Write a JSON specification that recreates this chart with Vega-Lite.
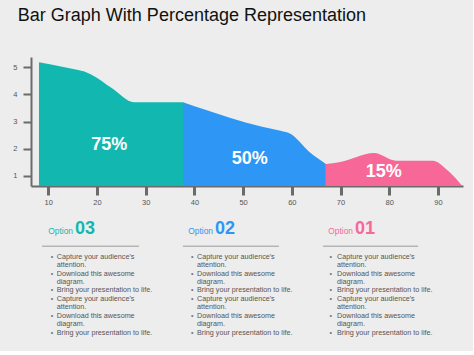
{
  "$schema": "https://vega.github.io/schema/vega-lite/v6.json",
  "background": "#EDEDED",
  "padding": {"left": 12, "top": 7, "right": 10, "bottom": 10},
  "bounds": "flush",
  "spacing": 37,
  "title": {"text": "Bar Graph With Percentage Representation", "anchor": "start", "fontSize": 18, "font": "Liberation Sans", "fontWeight": "normal", "color": "#111111", "offset": 32, "dx": 5},
  "config": {"view": {"stroke": null}, "font": "Liberation Sans"},
  "vconcat": [
    {
      "width": 432,
      "height": 129,
      "layer": [
        {
          "data": {"values": [
            {"seg": "a", "x": 8.09, "y": 5.18},
            {"seg": "a", "x": 13.6, "y": 4.98},
            {"seg": "a", "x": 18.7, "y": 4.74},
            {"seg": "a", "x": 23.1, "y": 4.22},
            {"seg": "a", "x": 27.6, "y": 3.71},
            {"seg": "a", "x": 37.66, "y": 3.71},
            {"seg": "b", "x": 37.66, "y": 3.71},
            {"seg": "b", "x": 42.4, "y": 3.42},
            {"seg": "b", "x": 47.1, "y": 3.15},
            {"seg": "b", "x": 53.9, "y": 2.81},
            {"seg": "b", "x": 57.7, "y": 2.66},
            {"seg": "b", "x": 59.8, "y": 2.54},
            {"seg": "b", "x": 63.5, "y": 1.9},
            {"seg": "b", "x": 67.0, "y": 1.44},
            {"seg": "c", "x": 67.0, "y": 1.44},
            {"seg": "c", "x": 69.7, "y": 1.5},
            {"seg": "c", "x": 76.9, "y": 1.84},
            {"seg": "c", "x": 81.4, "y": 1.56},
            {"seg": "c", "x": 88.9, "y": 1.56},
            {"seg": "c", "x": 92.2, "y": 1.17},
            {"seg": "c", "x": 95.0, "y": 0.63}
          ]},
          "mark": {"type": "area", "interpolate": "monotone", "opacity": 1},
          "encoding": {
            "x": {"field": "x", "type": "quantitative", "scale": {"domain": [6.45, 95.15], "nice": false, "zero": false},
              "axis": {"values": [10, 20, 30, 40, 50, 60, 70, 80, 90], "tickCount": 12, "title": null, "grid": false, "labelOverlap": false, "domainColor": "#6b6b6b", "domainWidth": 2, "tickColor": "#6b6b6b", "tickWidth": 3, "tickSize": 9, "labelColor": "#555555", "labelFontSize": 7.5, "labelPadding": 3}},
            "y": {"field": "y", "type": "quantitative", "stack": null, "scale": {"domain": [0.63, 5.37], "nice": false, "zero": false},
              "axis": {"values": [1, 2, 3, 4, 5], "tickCount": 6, "title": null, "grid": false, "labelOverlap": false, "domainColor": "#6b6b6b", "domainWidth": 2, "tickColor": "#6b6b6b", "tickWidth": 2, "tickSize": 8, "labelColor": "#555555", "labelFontSize": 7.5, "labelPadding": 6}},
            "y2": {"datum": 0.63},
            "color": {"field": "seg", "type": "nominal", "scale": {"domain": ["a", "b", "c"], "range": ["#12B8B0", "#2E96F5", "#F76898"]}, "legend": null}
          }
        },
        {
          "data": {"values": [
            {"label": "75%", "x": 22.5, "y": 2.15},
            {"label": "50%", "x": 51.35, "y": 1.62},
            {"label": "15%", "x": 78.9, "y": 1.15}
          ]},
          "mark": {"type": "text", "fontSize": 18, "fontWeight": "bold", "color": "#FFFFFF", "align": "center", "baseline": "middle"},
          "encoding": {
            "x": {"field": "x", "type": "quantitative"},
            "y": {"field": "y", "type": "quantitative"},
            "text": {"field": "label"}
          }
        }
      ]
    },
    {
      "width": 432,
      "height": 118,
      "encoding": {
        "y": {"type": "quantitative", "scale": {"domain": [-4, 10], "nice": false, "zero": false, "reverse": true}, "axis": null}
      },
      "layer": [
        {
          "data": {"values": [
            {"block": "03", "x1": 8.71, "x2": 28.63, "row": -1.25},
            {"block": "02", "x1": 37.66, "x2": 57.37, "row": -1.25},
            {"block": "01", "x1": 66.41, "x2": 85.92, "row": -1.25}
          ]},
          "mark": {"type": "rule", "color": "#9a9a9a", "strokeWidth": 1},
          "encoding": {
            "x": {"field": "x1", "type": "quantitative", "scale": {"domain": [6.45, 95.15], "nice": false, "zero": false}, "axis": null},
            "x2": {"field": "x2"},
            "y": {"field": "row", "type": "quantitative"}
          }
        },
        {
          "data": {"name": "heads", "values": [
            {"block": "03", "ox": 10.0, "nx": 15.48, "row": -2.7},
            {"block": "02", "ox": 38.75, "nx": 44.23, "row": -2.7},
            {"block": "01", "ox": 67.5, "nx": 72.98, "row": -2.7}
          ]},
          "layer": [
            {
              "mark": {"type": "text", "fontSize": 8.4, "align": "left", "baseline": "alphabetic"},
              "encoding": {
                "x": {"field": "ox", "type": "quantitative", "scale": {"domain": [6.45, 95.15], "nice": false, "zero": false}, "axis": null},
                "y": {"field": "row", "type": "quantitative"},
                "text": {"value": "Option"},
                "color": {"field": "block", "type": "nominal", "scale": {"domain": ["03", "02", "01"], "range": ["#1AA8A0", "#3A92DE", "#E2638F"]}, "legend": null}
              }
            },
            {
              "mark": {"type": "text", "fontSize": 18, "fontWeight": "bold", "align": "left", "baseline": "alphabetic"},
              "encoding": {
                "x": {"field": "nx", "type": "quantitative"},
                "y": {"field": "row", "type": "quantitative"},
                "text": {"field": "block"},
                "color": {"field": "block", "type": "nominal", "legend": null}
              }
            }
          ]
        },
        {
          "data": {"values": [
            {"bx": 10.76, "tx": 11.73, "row": 0, "b": "•", "t": "Capture your audience's"},
            {"bx": 10.76, "tx": 11.73, "row": 1, "b": "", "t": "attention."},
            {"bx": 10.76, "tx": 11.73, "row": 2, "b": "•", "t": "Download this awesome"},
            {"bx": 10.76, "tx": 11.73, "row": 3, "b": "", "t": "diagram."},
            {"bx": 10.76, "tx": 11.73, "row": 4, "b": "•", "t": "Bring your presentation to life."},
            {"bx": 10.76, "tx": 11.73, "row": 5, "b": "•", "t": "Capture your audience's"},
            {"bx": 10.76, "tx": 11.73, "row": 6, "b": "", "t": "attention."},
            {"bx": 10.76, "tx": 11.73, "row": 7, "b": "•", "t": "Download this awesome"},
            {"bx": 10.76, "tx": 11.73, "row": 8, "b": "", "t": "diagram."},
            {"bx": 10.76, "tx": 11.73, "row": 9, "b": "•", "t": "Bring your presentation to life."},
            {"bx": 39.57, "tx": 40.54, "row": 0, "b": "•", "t": "Capture your audience's"},
            {"bx": 39.57, "tx": 40.54, "row": 1, "b": "", "t": "attention."},
            {"bx": 39.57, "tx": 40.54, "row": 2, "b": "•", "t": "Download this awesome"},
            {"bx": 39.57, "tx": 40.54, "row": 3, "b": "", "t": "diagram."},
            {"bx": 39.57, "tx": 40.54, "row": 4, "b": "•", "t": "Bring your presentation to life."},
            {"bx": 39.57, "tx": 40.54, "row": 5, "b": "•", "t": "Capture your audience's"},
            {"bx": 39.57, "tx": 40.54, "row": 6, "b": "", "t": "attention."},
            {"bx": 39.57, "tx": 40.54, "row": 7, "b": "•", "t": "Download this awesome"},
            {"bx": 39.57, "tx": 40.54, "row": 8, "b": "", "t": "diagram."},
            {"bx": 39.57, "tx": 40.54, "row": 9, "b": "•", "t": "Bring your presentation to life."},
            {"bx": 68.0, "tx": 69.28, "row": 0, "b": "•", "t": "Capture your audience's"},
            {"bx": 68.0, "tx": 69.28, "row": 1, "b": "", "t": "attention."},
            {"bx": 68.0, "tx": 69.28, "row": 2, "b": "•", "t": "Download this awesome"},
            {"bx": 68.0, "tx": 69.28, "row": 3, "b": "", "t": "diagram."},
            {"bx": 68.0, "tx": 69.28, "row": 4, "b": "•", "t": "Bring your presentation to life."},
            {"bx": 68.0, "tx": 69.28, "row": 5, "b": "•", "t": "Capture your audience's"},
            {"bx": 68.0, "tx": 69.28, "row": 6, "b": "", "t": "attention."},
            {"bx": 68.0, "tx": 69.28, "row": 7, "b": "•", "t": "Download this awesome"},
            {"bx": 68.0, "tx": 69.28, "row": 8, "b": "", "t": "diagram."},
            {"bx": 68.0, "tx": 69.28, "row": 9, "b": "•", "t": "Bring your presentation to life."}
          ]},
          "layer": [
            {
              "mark": {"type": "text", "fontSize": 7.2, "align": "center", "baseline": "middle", "color": "#777777"},
              "encoding": {
                "x": {"field": "bx", "type": "quantitative"},
                "y": {"field": "row", "type": "quantitative"},
                "text": {"field": "b"}
              }
            },
            {
              "mark": {"type": "text", "fontSize": 7.2, "align": "left", "baseline": "middle", "color": "#555555"},
              "encoding": {
                "x": {"field": "tx", "type": "quantitative"},
                "y": {"field": "row", "type": "quantitative"},
                "text": {"field": "t"}
              }
            }
          ]
        }
      ]
    }
  ]
}
